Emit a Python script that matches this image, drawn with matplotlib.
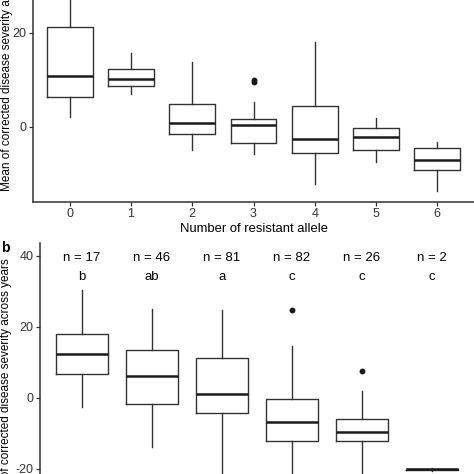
import matplotlib
matplotlib.use("Agg")
import matplotlib.pyplot as plt

plt.rcParams['font.family'] = ['Liberation Sans', 'DejaVu Sans']
plt.rcParams['axes.unicode_minus'] = False

# Panel a: mean corrected severity by number of resistant alleles
alleles = [0, 1, 2, 3, 4, 5, 6]
a_whislo = [2.1, 6.9, -4.9, -5.7, -12.1, -7.5, -13.6]
a_q1 = [6.4, 8.7, -1.5, -3.4, -5.5, -4.9, -9.1]
a_med = [10.8, 10.2, 0.85, 0.36, -2.55, -2.2, -7.1]
a_q3 = [21.3, 12.3, 4.9, 1.6, 4.5, -0.15, -4.6]
a_whishi = [34.0, 15.7, 13.7, 5.2, 18.1, 1.9, -3.3]
a_fliers = [[], [], [], [9.5, 10.0], [], [], []]

# Panel b: groups with sample size and significance letters
groups = [1, 2, 3, 4, 5, 6]
b_whislo = [-2.6, -13.8, -30.0, -26.0, -22.5, -20.5]
b_q1 = [6.8, -1.9, -4.3, -12.2, -12.2, -20.35]
b_med = [12.4, 6.0, 1.1, -6.9, -9.7, -20.2]
b_q3 = [17.9, 13.4, 11.3, -0.3, -5.9, -20.05]
b_whishi = [30.3, 25.0, 24.6, 14.6, 1.8, -19.9]
b_fliers = [[], [], [], [24.7], [7.4], []]
n_labels = ["n = 17", "n = 46", "n = 81", "n = 82", "n = 26", "n = 2"]
letters = ["b", "ab", "a", "c", "c", "c"]


def make_stats(lo, q1, med, q3, hi, fl):
    return [dict(whislo=a, q1=b, med=c, q3=d, whishi=e, fliers=f)
            for a, b, c, d, e, f in zip(lo, q1, med, q3, hi, fl)]


def draw_boxes(ax, stats, pos):
    ax.bxp(stats, positions=pos, widths=0.75, showcaps=False,
           boxprops=dict(color='#333333', linewidth=1.0),
           whiskerprops=dict(color='#333333', linewidth=1.0),
           medianprops=dict(color='#1a1a1a', linewidth=1.8),
           flierprops=dict(marker='o', markersize=3.2, markerfacecolor='#1a1a1a',
                           markeredgecolor='#1a1a1a'))
    for s in ['top', 'right']:
        ax.spines[s].set_visible(False)
    for s in ['left', 'bottom']:
        ax.spines[s].set_linewidth(1.1)
        ax.spines[s].set_color('#333333')
    ax.tick_params(length=3, width=0.9, color='#333333', labelsize=9,
                   labelcolor='#333333', pad=1.5)


fig = plt.figure(figsize=(4.74, 4.74), dpi=100)

# top panel (its upper part lies outside the crop)
ax1 = fig.add_axes([33 / 474, 0.5738, 1 - 33 / 474, 0.5751])
draw_boxes(ax1, make_stats(a_whislo, a_q1, a_med, a_q3, a_whishi, a_fliers), alleles)
ax1.set_xlim(-0.6, 6.6)
ax1.set_ylim(-16, 42)
ax1.set_yticks([0, 20])
ax1.set_xticks(alleles)
ax1.set_xticklabels([str(a) for a in alleles])
ax1.set_xlabel("Number of resistant allele", fontsize=9.4, labelpad=2)
fig.text(7 / 474, 1 - 65 / 474, "Mean of corrected disease severity across years",
         rotation=90, ha='center', va='center', fontsize=8.5)

# bottom panel (its lower part lies outside the crop)
ax2 = fig.add_axes([40 / 474, -0.09, 1 - 40 / 474, 0.5767])
draw_boxes(ax2, make_stats(b_whislo, b_q1, b_med, b_q3, b_whishi, b_fliers), groups)
ax2.set_xlim(0.4, 6.6)
ax2.set_ylim(-33.5, 43.5)
ax2.set_yticks([-20, 0, 20, 40])
ax2.set_xticks(groups)
ax2.set_xticklabels([])
for g, n, l in zip(groups, n_labels, letters):
    ax2.text(g, 39.4, n, ha='center', va='center', fontsize=9.5)
    ax2.text(g, 34.0, l, ha='center', va='center', fontsize=9.5)
fig.text(6 / 474, 1 - 384 / 474, "Mean of corrected disease severity across years",
         rotation=90, ha='center', va='center', fontsize=8.5)
fig.text(1 / 474, 1 - 248 / 474, "b", fontweight='bold', fontsize=10,
         ha='left', va='center')

fig.savefig("out.png", dpi=100)
